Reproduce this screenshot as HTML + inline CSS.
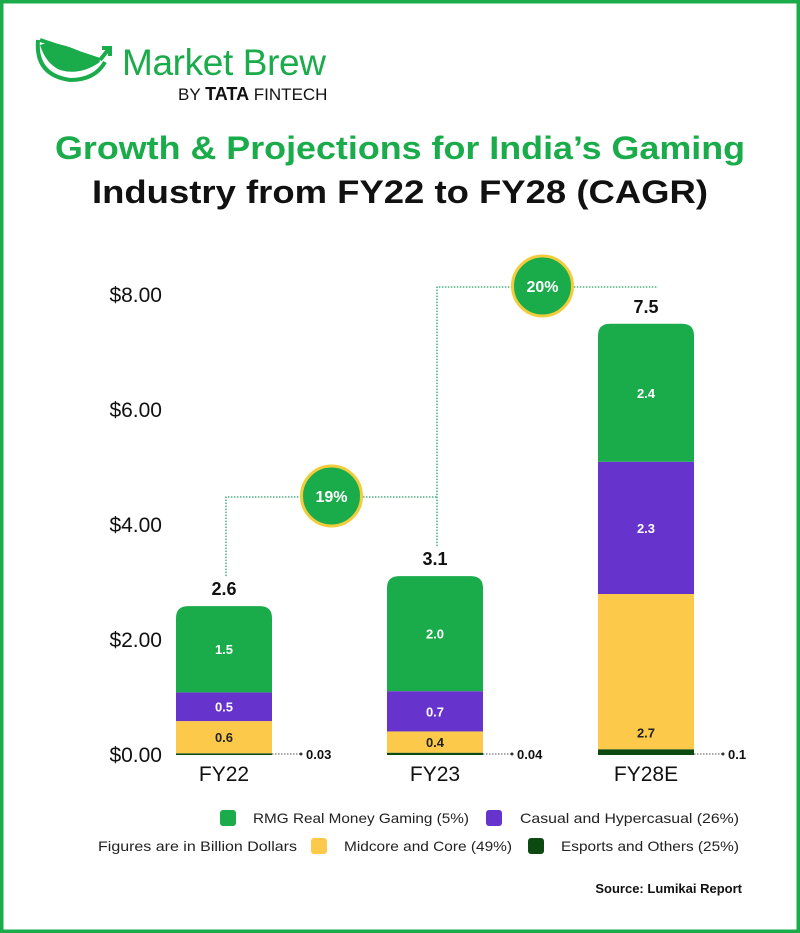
<!DOCTYPE html>
<html><head><meta charset="utf-8"><style>
body{margin:0;background:#fff}
#wrap{position:relative;width:800px;height:933px;overflow:hidden;font-family:"Liberation Sans",sans-serif}
</style></head><body>
<div id="wrap">
<svg id="chart" width="800" height="933" xmlns="http://www.w3.org/2000/svg">
<rect x="1.5" y="1.5" width="797" height="930" fill="none" stroke="#1aab4b" stroke-width="4"/>
<g>
<path d="M40 45 Q60 38 100 62 Q80 76 60 70 Q46 64 40 45 Z" fill="#1aab4b"/>
<path d="M38 40 Q35 75 70 80 Q95 80 105 62" fill="none" stroke="#1aab4b" stroke-width="4"/>
<path d="M40 40 L100 60 M100 60 L108 50 M102 48 L110 48 L110 56" fill="none" stroke="#1aab4b" stroke-width="4"/>
<text x="122" y="75" font-size="37" fill="#1aab4b" textLength="204">Market Brew</text>
<text x="178" y="100" font-size="17" fill="#111">BY <tspan font-weight="bold" font-size="18">TATA</tspan> FINTECH</text>
</g>
<text x="55" y="159" font-size="32" font-weight="bold" fill="#1aab4b" textLength="690" lengthAdjust="spacingAndGlyphs">Growth &amp; Projections for India’s Gaming</text>
<text x="92" y="203" font-size="32" font-weight="bold" fill="#111" textLength="616" lengthAdjust="spacingAndGlyphs">Industry from FY22 to FY28 (CAGR)</text>
<g id="yaxis"></g>
<g id="connectors"></g>
<g id="bars"></g>
<g>
<rect x="220" y="810" width="16" height="16" rx="3" fill="#1aab4b"/>
<text x="253" y="823" font-size="14" fill="#222" textLength="216" lengthAdjust="spacingAndGlyphs">RMG Real Money Gaming (5%)</text>
<rect x="486" y="810" width="16" height="16" rx="3" fill="#6633cc"/>
<text x="520" y="823" font-size="14" fill="#222" textLength="219" lengthAdjust="spacingAndGlyphs">Casual and Hypercasual (26%)</text>
<text x="98" y="851" font-size="14" fill="#222" textLength="199" lengthAdjust="spacingAndGlyphs">Figures are in Billion Dollars</text>
<rect x="311" y="838" width="16" height="16" rx="3" fill="#fdc94a"/>
<text x="344" y="851" font-size="14" fill="#222" textLength="168" lengthAdjust="spacingAndGlyphs">Midcore and Core (49%)</text>
<rect x="528" y="838" width="16" height="16" rx="3" fill="#0d4a12"/>
<text x="561" y="851" font-size="14" fill="#222" textLength="178" lengthAdjust="spacingAndGlyphs">Esports and Others (25%)</text>
</g>
<text x="742" y="893" text-anchor="end" font-size="13" font-weight="bold" fill="#111">Source: Lumikai Report</text>
</svg>
</div>
<script>
const categories = ["FY22","FY23","FY28E"];
const esports = [0.03,0.04,0.1];
const midcore = [0.56,0.37,2.7];
const casual = [0.5,0.7,2.3];
const rmg = [1.5,2.0,2.4];
const segLabels = [["","0.6","0.5","1.5"],["","0.4","0.7","2.0"],["","2.7","2.3","2.4"]];
const sideLabels = ["0.03","0.04","0.1"];
const totals = ["2.6","3.1","7.5"];
const cagr = ["19%","20%"];
const yTicks = [0,2,4,6,8];
const yTickLabels = ["$0.00","$2.00","$4.00","$6.00","$8.00"];

const NS="http://www.w3.org/2000/svg";
const y0=755, pxPer=57.5;
const yS=v=>y0-v*pxPer;
const xC=i=>224+i*211;
const BW=96;
function mk(tag,attrs,parent,txt){const e=document.createElementNS(NS,tag);for(const k in attrs)e.setAttribute(k,attrs[k]);if(txt!==undefined)e.textContent=txt;parent.appendChild(e);return e;}

const yaxis=document.getElementById('yaxis');
yTicks.forEach((t,i)=>{
  const e=mk('text',{x:162,y:yS(t)+7,'text-anchor':'end','font-size':21,fill:'#111'},yaxis,yTickLabels[i]);
  
  
});

const bars=document.getElementById('bars');
const series=[esports,midcore,casual,rmg];
const colors=["#0d4a12","#fdc94a","#6633cc","#1aab4b"];
const txtCol=["#fff","#222","#fff","#fff"];
const tops=[];
categories.forEach((c,i)=>{
  let acc=0;
  const x=xC(i)-BW/2;
  const total=series.reduce((s,a)=>s+a[i],0);
  tops.push(yS(total));
  series.forEach((arr,s)=>{
    const yb=yS(acc), yt=yS(acc+arr[i]);
    let el;
    if(s===3){
      const r=12;
      el=mk('path',{d:`M${x} ${yb} L${x} ${yt+r} Q${x} ${yt} ${x+r} ${yt} L${x+BW-r} ${yt} Q${x+BW} ${yt} ${x+BW} ${yt+r} L${x+BW} ${yb} Z`,fill:colors[s]},bars);
    } else {
      el=mk('rect',{x:x,y:yt,width:BW,height:yb-yt,fill:colors[s]},bars);
    }
    
    
    const lab=segLabels[i][s];
    if(lab){
      const ly = s===1 && i===2 ? yb-12 : (yt+yb)/2+5;
      const t=mk('text',{x:xC(i),y:ly,'text-anchor':'middle','font-size':13,'font-weight':'bold',fill:txtCol[s]},bars,lab);
      
      
    }
    acc+=arr[i];
  });
  const tl=mk('text',{x:xC(i),y:yS(total)-11,'text-anchor':'middle','font-size':18,'font-weight':'bold',fill:'#111'},bars,totals[i]);
  
  
  const ln=mk('line',{x1:x+BW,y1:y0-1,x2:x+BW+28,y2:y0-1,stroke:'#555','stroke-dasharray':'1.5 1.5'},bars);
  
  
  const dot=mk('circle',{cx:x+BW+29,cy:y0-1,r:1.5,fill:'#333'},bars);
  
  
  const sl=mk('text',{x:x+BW+34,y:y0+4,'font-size':13,'font-weight':'bold',fill:'#111'},bars,sideLabels[i]);
  
  
  const xl=mk('text',{x:xC(i),y:y0+26,'text-anchor':'middle','font-size':21,fill:'#111'},bars,c);
  
  
});

const con=document.getElementById('connectors');
const lvl=[497,287];
for(let k=0;k<2;k++){
  const xa=xC(k)+2, xb=xC(k+1)+2;
  const startY=tops[k]-30;
  const path=k===0?`M${xa} ${startY} L${xa} ${lvl[k]} L${xb} ${lvl[k]}`:`M${xa} ${startY} L${xa} ${lvl[k]} L${xb+10} ${lvl[k]}`;
  const p=mk('path',{d:path,fill:'none',stroke:'#2a9d6a','stroke-width':1.3,'stroke-dasharray':'1.5 1.5'},con);
  
  
  const cx=(xa+xb)/2;
  const c=mk('circle',{cx:cx,cy:lvl[k]-1,r:30,fill:'#1aab4b',stroke:'#f2cc3a','stroke-width':3},con);
  
  
  const t=mk('text',{x:cx,y:lvl[k]+5,'text-anchor':'middle','font-size':16,'font-weight':'bold',fill:'#fff'},con,cagr[k]);
  
  
}
</script>
</body></html>
